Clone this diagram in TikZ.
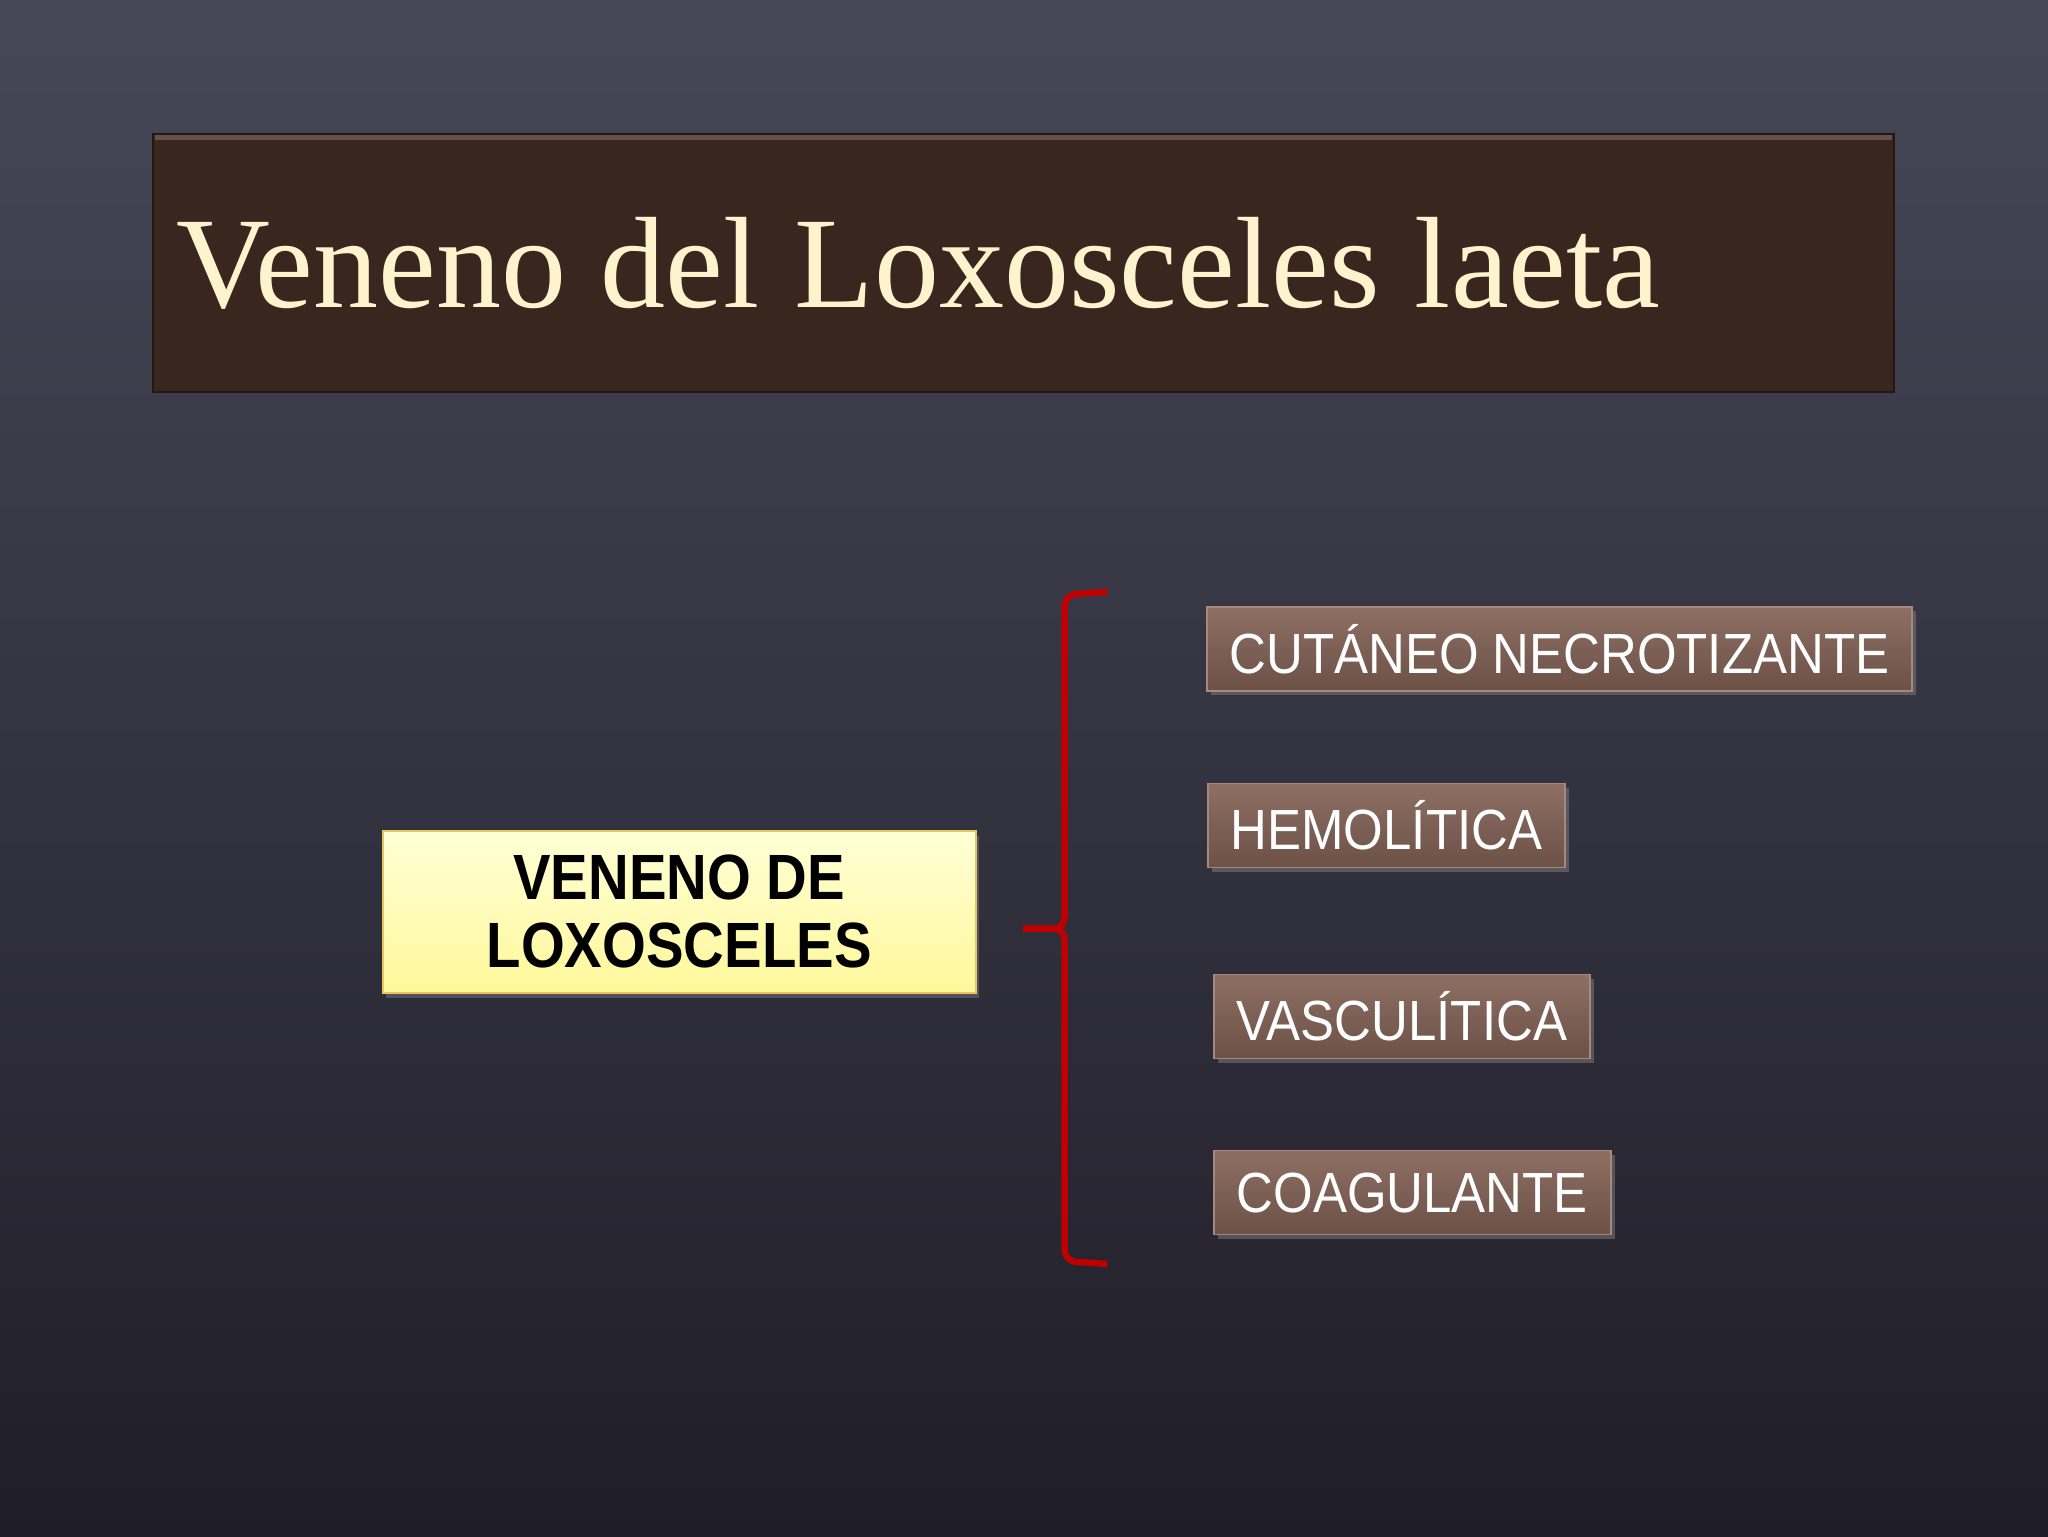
\documentclass[tikz,border=0pt]{standalone}
\usepackage{fontspec}
\setmainfont{Liberation Serif}
\newfontfamily\slidesans{Liberation Sans}[FakeStretch=0.9]
\newfontfamily\slidebold{Liberation Sans Bold}[FakeStretch=0.88]
\newcommand\slidetitlefont{\fontsize{65}{78}\selectfont\spaceskip=0.27em\relax}
\usepackage{tikz}
\usetikzlibrary{shadows}
\definecolor{bgtop}{RGB}{72,71,88}
\definecolor{bgbottom}{RGB}{31,30,40}
\definecolor{titlebrown}{RGB}{57,39,31}
\definecolor{titlebevel}{RGB}{104,80,70}
\definecolor{titlecream}{RGB}{255,243,205}
\definecolor{palebright}{RGB}{255,255,214}
\definecolor{paleyellow}{RGB}{255,248,155}
\definecolor{goldline}{RGB}{232,196,100}
\definecolor{mauvetop}{RGB}{142,111,99}
\definecolor{mauvebottom}{RGB}{108,81,71}
\definecolor{mauveline}{RGB}{166,136,124}
\definecolor{bracered}{RGB}{192,0,0}

\begin{document}
\begin{tikzpicture}
[every node/.style={inner sep=0pt},
 titlebox/.style={rectangle, fill=titlebrown, draw=black!40!titlebrown, line width=1pt, text=titlecream, font=\slidetitlefont, inner xsep=11.5pt},
 venombox/.style={rectangle, top color=palebright, bottom color=paleyellow, draw=goldline, line width=1pt, text=black, font=\slidebold\fontsize{32}{34}\selectfont, align=center, drop shadow={shadow xshift=1.5pt, shadow yshift=-2.5pt, opacity=0.45}},
 effectbox/.style={rectangle, top color=mauvetop, bottom color=mauvebottom, draw=mauveline, line width=0.75pt, text=white, font=\slidesans\fontsize{28.3}{34}\selectfont, minimum height=42pt, inner xsep=11.5pt, anchor=west, drop shadow={shadow xshift=2pt, shadow yshift=-2pt, opacity=0.5}},
 bracepath/.style={line width=3.2pt, color=bracered}]
\fill [top color=bgtop, bottom color=bgbottom] (0pt, 0pt) rectangle (1024pt, -768pt);
\useasboundingbox (0pt, 0pt) rectangle (1024pt, -768pt);
\node (title) [titlebox, minimum height=128.75pt] at (511.75pt, -131.6pt) {\makebox[847.5pt][l]{Veneno del Loxosceles laeta}};
\draw [line width=2.5pt, color=titlebevel] ([xshift=1.5pt, yshift=-1.8pt]title.north west) -- ([xshift=-1.5pt, yshift=-1.8pt]title.north east);
\node (venom) [venombox, minimum width=296.5pt, minimum height=81pt] at (339.6pt, -455.8pt) {VENENO DE\\LOXOSCELES};
\coordinate (bracetop) at (553.8pt, -295.9pt);
\coordinate (bracetip) at (511.4pt, -464.3pt);
\coordinate (bracebottom) at (553.8pt, -632pt);
\draw [bracepath] (bracetop) to[out=183, in=0] (539pt, -296.8pt) to[out=180, in=90] (532.3pt, -303pt) -- (532.3pt, -459pt) to[out=-90, in=0] (527pt, -464.3pt) -- (bracetip);
\draw [bracepath] (bracebottom) to[out=177, in=0] (539pt, -631.1pt) to[out=180, in=-90] (532.3pt, -625pt) -- (532.3pt, -469.6pt) to[out=90, in=0] (527pt, -464.3pt);
\node (cutaneo) [effectbox] at (603pt, -324.5pt) {CUTÁNEO NECROTIZANTE};
\node (hemolitica) [effectbox] at (603.5pt, -412.75pt) {HEMOLÍTICA};
\node (vasculitica) [effectbox] at (606.5pt, -508.25pt) {VASCULÍTICA};
\node (coagulante) [effectbox] at (606.5pt, -596.25pt) {COAGULANTE};
\end{tikzpicture}
\end{document}
